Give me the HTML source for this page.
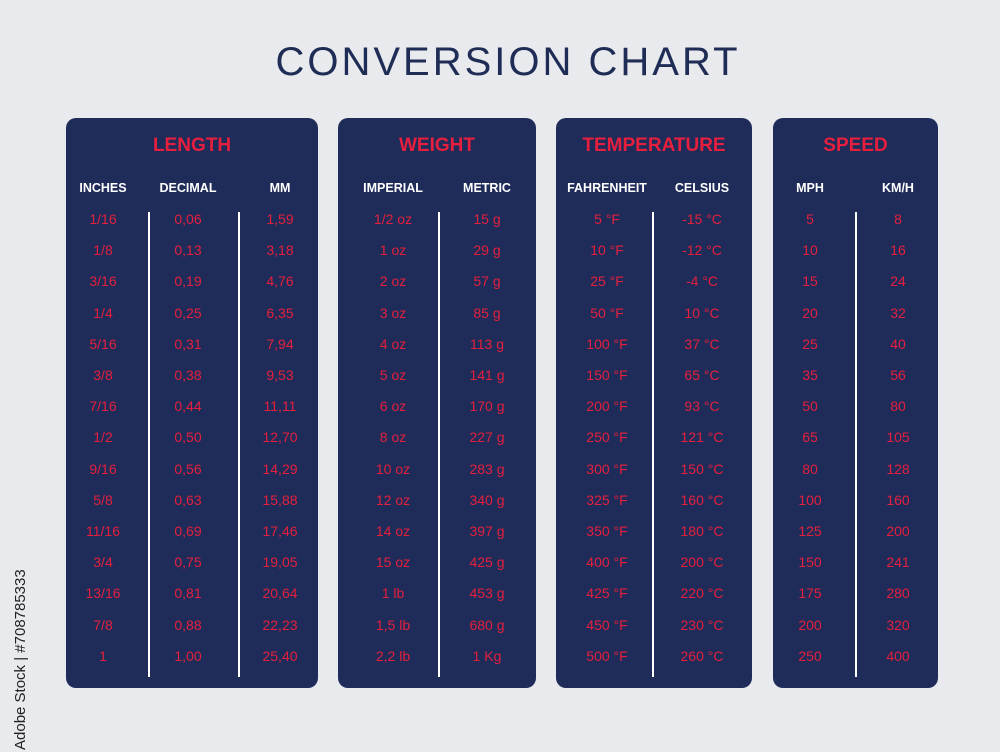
<!DOCTYPE html>
<html><head><meta charset="utf-8">
<style>
body{margin:0;width:1000px;height:752px;background:#e8eaed;position:relative;overflow:hidden;font-family:"Liberation Sans",sans-serif}
#title{position:absolute;left:0;width:1016px;top:40px;text-align:center;font-size:40px;color:#1f2d56;letter-spacing:3px}
.panel{position:absolute;top:118px;height:570px;background:#1f2c59;border-radius:10px}
.ph{position:absolute;top:135px;color:#e51f3d;font-size:19px;font-weight:bold;text-align:center}
.ch{position:absolute;top:181px;color:#fff;font-size:12.5px;font-weight:bold;text-align:center;transform:translateX(-50%);white-space:nowrap}
.cell{position:absolute;color:#e51f3d;font-size:14px;transform:translateX(-50%);white-space:nowrap}
.div{position:absolute;top:212px;height:465px;width:2px;background:#fff}
#wm{position:absolute;left:12px;top:750px;transform:rotate(-90deg);transform-origin:0 0;font-size:15px;color:#222;white-space:nowrap}
</style></head><body>
<div id="title">CONVERSION CHART</div>
<div id="wm">Adobe Stock | #708785333</div>
<script>
const panelTitles=["LENGTH","WEIGHT","TEMPERATURE","SPEED"];
const panelX=[[66,318],[338,536],[556,752],[773,938]];
const colHeads=[["INCHES","DECIMAL","MM"],["IMPERIAL","METRIC"],["FAHRENHEIT","CELSIUS"],["MPH","KM/H"]];
const colX=[[103,188,280],[393,487],[607,702],[810,898]];
const divX=[[148,238],[438],[652],[855]];
const inches=["1/16","1/8","3/16","1/4","5/16","3/8","7/16","1/2","9/16","5/8","11/16","3/4","13/16","7/8","1"];
const decimal=["0,06","0,13","0,19","0,25","0,31","0,38","0,44","0,50","0,56","0,63","0,69","0,75","0,81","0,88","1,00"];
const mm=["1,59","3,18","4,76","6,35","7,94","9,53","11,11","12,70","14,29","15,88","17,46","19,05","20,64","22,23","25,40"];
const imperial=["1/2 oz","1 oz","2 oz","3 oz","4 oz","5 oz","6 oz","8 oz","10 oz","12 oz","14 oz","15 oz","1 lb","1,5 lb","2,2 lb"];
const metric=["15 g","29 g","57 g","85 g","113 g","141 g","170 g","227 g","283 g","340 g","397 g","425 g","453 g","680 g","1 Kg"];
const fahr=["5 °F","10 °F","25 °F","50 °F","100 °F","150 °F","200 °F","250 °F","300 °F","325 °F","350 °F","400 °F","425 °F","450 °F","500 °F"];
const cels=["-15 °C","-12 °C","-4 °C","10 °C","37 °C","65 °C","93 °C","121 °C","150 °C","160 °C","180 °C","200 °C","220 °C","230 °C","260 °C"];
const mph=["5","10","15","20","25","35","50","65","80","100","125","150","175","200","250"];
const kmh=["8","16","24","32","40","56","80","105","128","160","200","241","280","320","400"];
const cols=[[inches,decimal,mm],[imperial,metric],[fahr,cels],[mph,kmh]];
const rowY=i=>211+i*31.2;
for(let p=0;p<4;p++){
  const pn=document.createElement('div');pn.className='panel';
  
  
  pn.style.left=panelX[p][0]+'px';pn.style.width=(panelX[p][1]-panelX[p][0])+'px';
  document.body.appendChild(pn);
  const h=document.createElement('div');h.className='ph';h.textContent=panelTitles[p];
  
  
  h.style.left=panelX[p][0]+'px';h.style.width=(panelX[p][1]-panelX[p][0])+'px';
  document.body.appendChild(h);
  colHeads[p].forEach((t,c)=>{
    const e=document.createElement('div');e.className='ch';e.textContent=t;
    
    
    e.style.left=colX[p][c]+'px';document.body.appendChild(e);
    cols[p][c].forEach((v,i)=>{
      const d=document.createElement('div');d.className='cell';d.textContent=v;
      
      
      d.style.left=colX[p][c]+'px';d.style.top=rowY(i)+'px';document.body.appendChild(d);
    });
  });
  divX[p].forEach(x=>{
    const d=document.createElement('div');d.className='div';
    
    
    d.style.left=x+'px';document.body.appendChild(d);
  });
}
</script>
</body></html>
